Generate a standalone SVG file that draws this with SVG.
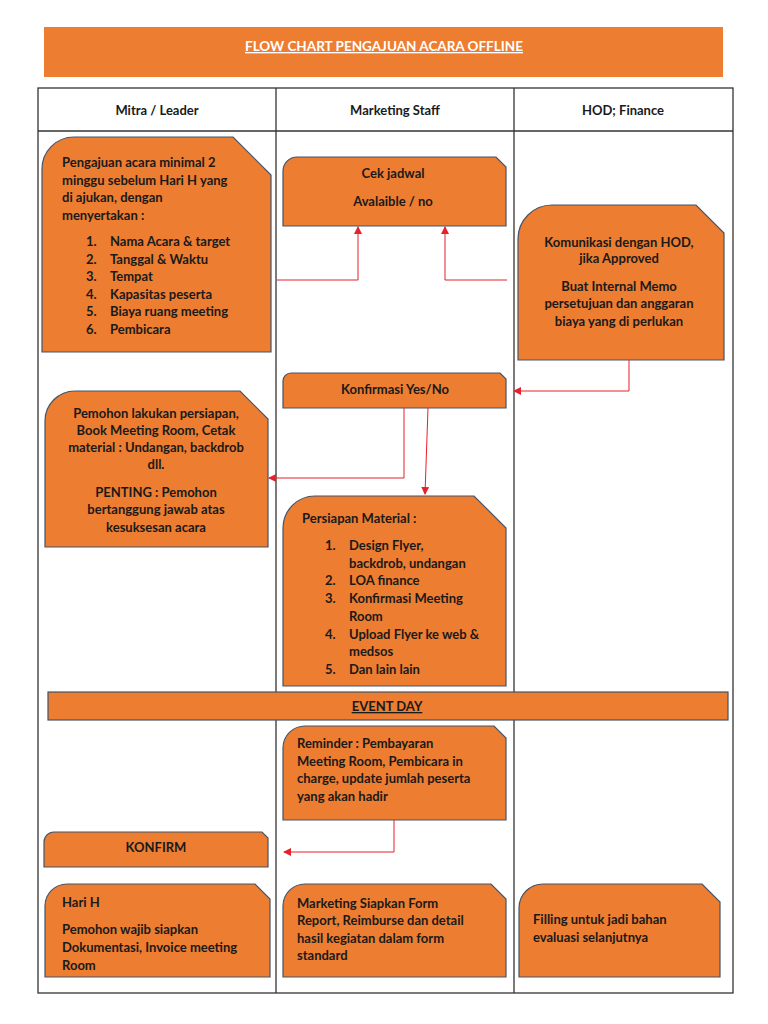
<svg xmlns="http://www.w3.org/2000/svg" width="768" height="1024" viewBox="0 0 768 1024">
<defs>
<style>
.box{fill:#ED7D31;stroke:#44546A;stroke-width:1.2}
.t{font-family:Lato,"Open Sans","Liberation Sans",sans-serif;font-weight:bold;font-size:13px;fill:#1a1a1a}
.c{text-anchor:middle}
.grid{stroke:#333;stroke-width:1.3;fill:none}
.conn{stroke:#E8202A;stroke-width:1;fill:none}
</style>
<marker id="ah" markerWidth="8" markerHeight="8" refX="7" refY="4" orient="auto" markerUnits="userSpaceOnUse">
<path d="M0,0 L8,4 L0,8 Z" fill="#E8202A"/>
</marker>
</defs>
<rect width="768" height="1024" fill="#fff"/>
<g id="title">
<rect x="44" y="27" width="679" height="50" fill="#ED7D31"/>
<text x="384" y="51" class="t c" style="fill:#fff;text-decoration:underline;font-size:13.5px">FLOW CHART PENGAJUAN ACARA OFFLINE</text>
</g>
<g id="table">
<rect x="38" y="88" width="695" height="905" class="grid"/>
<line x1="38" y1="131" x2="733" y2="131" class="grid"/>
<line x1="276" y1="88" x2="276" y2="692" class="grid"/>
<line x1="514" y1="88" x2="514" y2="692" class="grid"/>
<line x1="276" y1="720" x2="276" y2="993" class="grid"/>
<line x1="514" y1="720" x2="514" y2="993" class="grid"/>
<text x="157" y="115" class="t c">Mitra / Leader</text>
<text x="395" y="115" class="t c">Marketing Staff</text>
<text x="623" y="115" class="t c">HOD; Finance</text>
</g>
<g id="n1">
<path class="box" d="M42,352 V169 A32,32 0 0 1 74,137 H233 L271,175 V352 Z"/>
<text class="t" x="62" y="167">Pengajuan acara minimal 2</text>
<text class="t" x="62" y="185">minggu sebelum Hari H yang</text>
<text class="t" x="62" y="202">di ajukan, dengan</text>
<text class="t" x="62" y="220">menyertakan :</text>
<text class="t" x="86" y="246">1.</text><text class="t" x="110" y="246">Nama Acara &amp; target</text>
<text class="t" x="86" y="264">2.</text><text class="t" x="110" y="264">Tanggal &amp; Waktu</text>
<text class="t" x="86" y="281">3.</text><text class="t" x="110" y="281">Tempat</text>
<text class="t" x="86" y="299">4.</text><text class="t" x="110" y="299">Kapasitas peserta</text>
<text class="t" x="86" y="316">5.</text><text class="t" x="110" y="316">Biaya ruang meeting</text>
<text class="t" x="86" y="334">6.</text><text class="t" x="110" y="334">Pembicara</text>
</g>
<g id="n2">
<path class="box" d="M283,226 V171 A14,14 0 0 1 297,157 H496 L506,167 V226 Z"/>
<text class="t c" x="393" y="178">Cek jadwal</text>
<text class="t c" x="393" y="206">Avalaible / no</text>
</g>
<g id="n3">
<path class="box" d="M518,360 V239 A34,34 0 0 1 552,205 H696 L724,233 V360 Z"/>
<text class="t c" x="619" y="247">Komunikasi dengan HOD,</text>
<text class="t c" x="619" y="263">jika Approved</text>
<text class="t c" x="619" y="291">Buat Internal Memo</text>
<text class="t c" x="619" y="308">persetujuan dan anggaran</text>
<text class="t c" x="619" y="326">biaya yang di perlukan</text>
</g>
<g id="n4">
<path class="box" d="M283,408 V381 A8,8 0 0 1 291,373 H500 L506,379 V408 Z"/>
<text class="t c" x="395" y="394">Konfirmasi Yes/No</text>
</g>
<g id="n5">
<path class="box" d="M45,547 V421 A30,30 0 0 1 75,391 H240 L268,419 V547 Z"/>
<text class="t c" x="156" y="418">Pemohon lakukan persiapan,</text>
<text class="t c" x="156" y="435">Book Meeting Room, Cetak</text>
<text class="t c" x="156" y="452">material : Undangan, backdrob</text>
<text class="t c" x="156" y="469">dll.</text>
<text class="t c" x="156" y="497">PENTING : Pemohon</text>
<text class="t c" x="156" y="514">bertanggung jawab atas</text>
<text class="t c" x="156" y="532">kesuksesan acara</text>
</g>
<g id="n6">
<path class="box" d="M283,686 V528 A32,32 0 0 1 315,496 H474 L506,528 V686 Z"/>
<text class="t" x="302" y="523">Persiapan Material :</text>
<text class="t" x="325" y="550">1.</text><text class="t" x="349" y="550">Design Flyer,</text>
<text class="t" x="349" y="568">backdrob, undangan</text>
<text class="t" x="325" y="585">2.</text><text class="t" x="349" y="585">LOA finance</text>
<text class="t" x="325" y="603">3.</text><text class="t" x="349" y="603">Konfirmasi Meeting</text>
<text class="t" x="349" y="621">Room</text>
<text class="t" x="325" y="639">4.</text><text class="t" x="349" y="639">Upload Flyer ke web &amp;</text>
<text class="t" x="349" y="656">medsos</text>
<text class="t" x="325" y="674">5.</text><text class="t" x="349" y="674">Dan lain lain</text>
</g>
<g id="eventday">
<rect class="box" x="48" y="692" width="680" height="28"/>
<text class="t c" x="387" y="711" style="text-decoration:underline">EVENT DAY</text>
</g>
<g id="n7">
<path class="box" d="M283,820 V748 A22,22 0 0 1 305,726 H494 L506,738 V820 Z"/>
<text class="t" x="297" y="748">Reminder : Pembayaran</text>
<text class="t" x="297" y="766">Meeting Room, Pembicara in</text>
<text class="t" x="297" y="783">charge, update jumlah peserta</text>
<text class="t" x="297" y="801">yang akan hadir</text>
</g>
<g id="n8">
<path class="box" d="M44,867 V842 A10,10 0 0 1 54,832 H262 L268,838 V867 Z"/>
<text class="t c" x="156" y="852">KONFIRM</text>
</g>
<g id="n9">
<path class="box" d="M45,977 V906 A22,22 0 0 1 67,884 H255 L270,899 V977 Z"/>
<text class="t" x="62" y="907">Hari H</text>
<text class="t" x="62" y="934">Pemohon wajib siapkan</text>
<text class="t" x="62" y="952">Dokumentasi, Invoice meeting</text>
<text class="t" x="62" y="970">Room</text>
</g>
<g id="n10">
<path class="box" d="M283,977 V906 A22,22 0 0 1 305,884 H491 L506,899 V977 Z"/>
<text class="t" x="297" y="908">Marketing Siapkan Form</text>
<text class="t" x="297" y="925">Report, Reimburse dan detail</text>
<text class="t" x="297" y="943">hasil kegiatan dalam form</text>
<text class="t" x="297" y="960">standard</text>
</g>
<g id="n11">
<path class="box" d="M519,977 V908 A24,24 0 0 1 543,884 H702 L720,902 V977 Z"/>
<text class="t" x="533" y="924">Filling untuk jadi bahan</text>
<text class="t" x="533" y="942">evaluasi selanjutnya</text>
</g>
<g id="connectors">
<path class="conn" d="M277,280 H358 V227" marker-end="url(#ah)"/>
<path class="conn" d="M507,280 H445 V227" marker-end="url(#ah)"/>
<path class="conn" d="M629,360 V391 H514" marker-end="url(#ah)"/>
<path class="conn" d="M404,408 V478 H269" marker-end="url(#ah)"/>
<path class="conn" d="M428,408 L425,494" marker-end="url(#ah)"/>
<path class="conn" d="M394,820 V852 H284" marker-end="url(#ah)"/>
</g>
</svg>
